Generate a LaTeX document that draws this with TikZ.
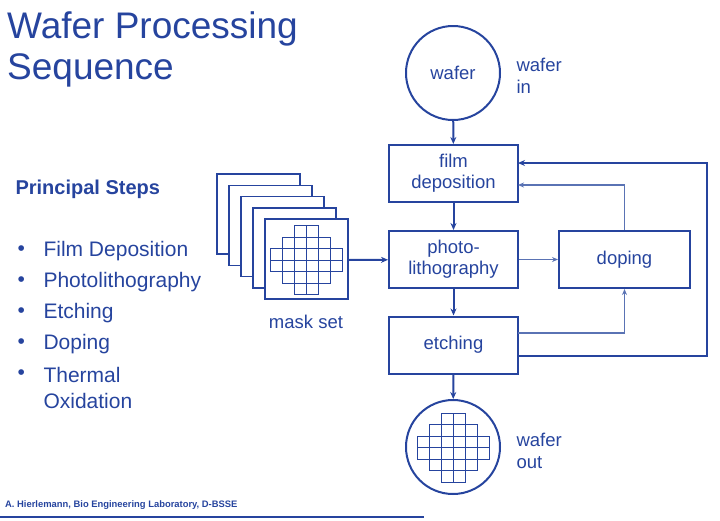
\documentclass[tikz,border=0pt]{standalone}
\usepackage{fontspec}
\setmainfont{Liberation Sans}
\usetikzlibrary{arrows.meta}
\definecolor{bl}{RGB}{38,68,158}
\definecolor{lb}{RGB}{90,115,180}
\begin{document}
\begin{tikzpicture}[x=1pt,y=-1pt,
  box/.style={draw=bl,line width=2pt,minimum width=129pt,minimum height=57pt,align=center,text=bl,font=\fontsize{18.5}{21}\selectfont,inner sep=0pt},
  circ/.style={draw=bl,line width=2pt,circle,minimum size=94pt,inner sep=0pt,text=bl,font=\fontsize{18.5}{21}\selectfont},
  lbl/.style={text=bl,font=\fontsize{18.5}{22}\selectfont,align=left,anchor=west},
  thick arr/.style={draw=bl,line width=2pt,-{Stealth[length=7pt,width=6pt]}},
  thin arr/.style={draw=lb,line width=1.3pt,-{Stealth[length=6pt,width=5pt]}},
  grid/.style={draw=bl,line width=1pt},
  txt/.style={text=bl,anchor=west,font=\fontsize{21}{25}\selectfont}]
\useasboundingbox (0,0) rectangle (720,520);
% title
\node[anchor=north west,text=bl,align=left,font=\fontsize{37}{41}\selectfont,inner sep=0pt] (title) at (7,11) {Wafer Processing\\Sequence};
\node[txt,font=\bfseries\fontsize{20}{24}\selectfont] (ps) at (12,189) {Principal Steps};
\foreach \y/\t [count=\i] in {251/Film Deposition,282/Photolithography,313/Etching,344/Doping,375/Thermal} {
  \node[txt] (b\i) at (14,\y) {•};
  \node[txt] (s\i) at (40,\y) {\t};
}
\node[txt] (s6) at (40,401) {Oxidation};
% boxes
\node[box] (film) at (453.5,173.5) {film\\deposition};
\node[box] (photo) at (453.5,259.5) {photo-\\lithography};
\node[box] (etch) at (453.5,345) {etching};
\node[box,minimum width=131pt] (dop) at (624.5,259.5) {doping};
\node[circ] (win) at (453,73) {wafer};
\node[lbl] (winl) at (513,76) {wafer\\in};
\node[circ] (wout) at (453,447) {};
\node[lbl] (woutl) at (513,451) {wafer\\out};
% wafer out grid
\begin{scope}[shift={(453,447.5)}]
 \foreach \r/\n in {0/2,1/4,2/6,3/6,4/4,5/2}{
   \foreach \c in {1,...,\n}{
     \draw[grid] ({(\c-1-\n/2)*12},{(\r-3)*11.5}) rectangle ++(12,11.5);
   }
 }
\end{scope}
% masks
\foreach \k in {0,...,3}{
  \draw[bl,line width=1.6pt,fill=white] ({217+12*\k},{174+11.3*\k}) rectangle ++(83,80);
}
\draw[bl,line width=1.6pt,fill=white] (265,219) rectangle (348,299);
\coordinate (mask) at (348,260);
\begin{scope}[shift={(306.5,260)}]
 \foreach \r/\n in {0/2,1/4,2/6,3/6,4/4,5/2}{
   \foreach \c in {1,...,\n}{
     \draw[grid] ({(\c-1-\n/2)*12},{(\r-3)*11.5}) rectangle ++(12,11.5);
   }
 }
\end{scope}
\node[lbl,anchor=center] (maskl) at (306,322) {mask set};
% connector points
\coordinate (fA) at (518,163);
\coordinate (fB) at (518,185);
\coordinate (eA) at (518,333);
\coordinate (eB) at (518,356);
\coordinate (rc) at (707,356);
% connectors
\draw[thick arr] (win) -- (film);
\draw[thick arr] (film) -- (photo);
\draw[thick arr] (photo) -- (etch);
\draw[thick arr] (etch) -- (wout);
\draw[thick arr] (mask) -- (photo);
\draw[thin arr] (photo) -- (dop);
\draw[thin arr] (dop.north) |- (fB);
\draw[thin arr] (eA) -| (dop.south);
\draw[thick arr] (eB) -- (rc) |- (fA);
% footer
\node[anchor=west,text=bl,font=\bfseries\fontsize{9.4}{12}\selectfont,inner sep=0pt] (foot) at (5,505) {A. Hierlemann, Bio Engineering Laboratory, D-BSSE};
\draw[bl,line width=2pt] (0,517) -- (424,517);
\end{tikzpicture}
\end{document}
